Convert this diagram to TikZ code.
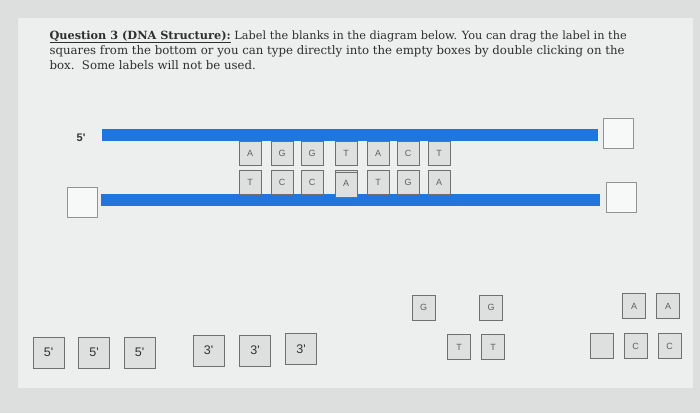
\documentclass[tikz,border=0pt]{standalone}
\usepackage{fontspec}
\setmainfont{DejaVu Serif}
\newfontfamily\labelfont{Liberation Sans}
\usetikzlibrary{positioning}

\definecolor{strandblue}{RGB}{33,118,222}
\definecolor{panelgray}{RGB}{237,239,239}
\definecolor{outergray}{RGB}{221,223,223}
\definecolor{tilefill}{RGB}{222,223,223}
\definecolor{tileline}{RGB}{112,112,112}
\definecolor{lettergray}{RGB}{95,95,95}

\tikzset{
  base/.style={draw=tileline, fill=tilefill, line width=0.9pt,
    minimum width=22pt, minimum height=24pt, inner sep=0pt,
    font=\labelfont\fontsize{9}{9}\selectfont, text=lettergray},
  blank/.style={draw=gray!85, fill=white!55!panelgray, line width=0.9pt,
    minimum size=30pt, inner sep=0pt},
  endtile/.style={draw=tileline, fill=tilefill, line width=1pt,
    minimum size=31pt, inner sep=0pt,
    font=\labelfont\fontsize{12.5}{12.5}\selectfont, text=black!80},
  spare/.style={base, minimum width=23pt, minimum height=25pt},
  strand/.style={fill=strandblue},
  question/.style={anchor=base west, text=black!82, font=\fontsize{11.75}{15}\selectfont}
}

\begin{document}
\begin{tikzpicture}[x=1pt,y=-1pt]

	% ======================================================
	% Screen background and question panel
	% ======================================================
	\useasboundingbox (0,0) rectangle (700,413);
	\fill[outergray] (0,0) rectangle (700,413);
	\fill[panelgray] (18,18) rectangle (693,388);

	\node[question, font=\fontsize{11.3}{15}\selectfont] (line1) at (46,39)
	{\textbf{\underline{Question 3 (DNA Structure):}} Label the blanks in the diagram below. You can drag the label in the};
	\node[question] (line2) at (46,54)
	{squares from the bottom or you can type directly into the empty boxes by double clicking on the};
	\node[question] (line3) at (46,69)
	{box.\ \ Some labels will not be used.};

	% ======================================================
	% The two strands with their end boxes
	% ======================================================
	\fill[strand] (102,129) rectangle (598,141);
	\fill[strand] (101,194) rectangle (600,206);

	\node[font=\labelfont\bfseries\fontsize{11}{11}\selectfont, text=black!80] (five) at (81,138) {5'};
	\node[blank] (endTR) at (618,133.5) {};
	\node[blank] (endBR) at (621,197) {};
	\node[blank] (endBL) at (82,202) {};

	% Base pairs
	\foreach \x/\b [count=\i] in {250/A,282/G,312/G,346/T,378/A,408/C,439/T}
		\node[base] (t\i) at (\x,153) {\b};
	\foreach \x/\b [count=\i] in {250/T,282/C,312/C,378/T,408/G,439/A}
		\node[base] (b\i) at (\x,182) {\b};
	\node[base, minimum height=27pt] (bA) at (346,183.5) {A};
	\draw[tileline, line width=0.9pt] ([yshift=-3pt]bA.north west) -- ([yshift=-3pt]bA.north east);

	% ======================================================
	% Label squares at the bottom
	% ======================================================
	\foreach \x/\y/\t [count=\i] in {48.5/352.5/5',94/352.5/5',139.5/352.5/5',
		208.5/350.5/3',255/350.5/3',301/349/3'}
		\node[endtile] (end\i) at (\x,\y) {\t};

	\node[spare] (g1) at (423.5,307.5) {G};
	\node[spare] (g2) at (491,307.5) {G};
	\node[spare] (u1) at (459,347) {T};
	\node[spare] (u2) at (493,347) {T};
	\node[spare] (none) at (601.5,346) {};
	\node[spare] (a1) at (634,306) {A};
	\node[spare] (a2) at (668,306) {A};
	\node[spare] (c1) at (635.5,346) {C};
	\node[spare] (c2) at (669.5,346) {C};

\end{tikzpicture}
\end{document}
